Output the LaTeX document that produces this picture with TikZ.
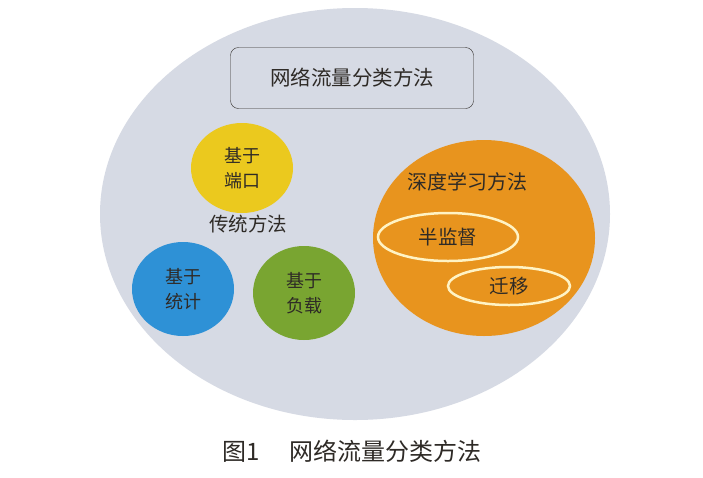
\documentclass[tikz,border=0pt]{standalone}
\usepackage{fontspec}
\newfontfamily\cjk{Noto Sans CJK SC}
\usetikzlibrary{shapes.geometric}
\definecolor{bggray}{HTML}{D6DAE4}
\definecolor{portyellow}{HTML}{EBC91E}
\definecolor{statblue}{HTML}{2E91D6}
\definecolor{loadgreen}{HTML}{79A531}
\definecolor{deeporange}{HTML}{E8941E}
\definecolor{rimcream}{HTML}{FFF3C4}
\definecolor{inkdark}{HTML}{2E2A26}
\begin{document}
\begin{tikzpicture}[x=1pt,y=-1pt,
  every node/.style={font=\cjk, text=inkdark, inner sep=0pt, align=center},
  blob/.style={ellipse, draw=none, font=\cjk\fontsize{18}{25}\selectfont},
  ring/.style={ellipse, draw=rimcream, line width=2.5pt, font=\cjk\fontsize{19.5}{22}\selectfont}]
\useasboundingbox (0,0) rectangle (703,477);
\fill[white] (0,0) rectangle (703,477);

\node[ellipse, fill=bggray, minimum width=510pt, minimum height=412pt] (bg) at (355,214) {};
\node[draw=inkdark, fill=bggray, rounded corners=8pt, minimum width=243pt, minimum height=61pt, font=\cjk\fontsize{20.5}{24}\selectfont] (title) at (352,78) {网络流量分类方法};

\node[blob, fill=portyellow, minimum width=102pt, minimum height=90pt] (port) at (242,168) {基于\\端口};
\node[font=\cjk\fontsize{19.5}{22}\selectfont] (trad) at (248,224) {传统方法};
\node[blob, fill=statblue, minimum width=102pt, minimum height=94pt] (stat) at (183,289) {基于\\统计};
\node[blob, fill=loadgreen, minimum width=102pt, minimum height=94pt] (load) at (304,293) {基于\\负载};

\node[ellipse, fill=deeporange, minimum width=222pt, minimum height=196pt] (deep) at (484,238) {};
\node[font=\cjk\fontsize{20}{24}\selectfont] (deeptxt) at (467,182) {深度学习方法};
\node[ring, minimum width=140pt, minimum height=48pt] (semi) at (448,237) {半监督};
\node[ring, minimum width=122pt, minimum height=38pt] (trans) at (509,286) {迁移};

\node[font=\cjk\fontsize{24}{26}\selectfont] (caption) at (352,451) {图1\hspace{30pt}网络流量分类方法};
\end{tikzpicture}
\end{document}
